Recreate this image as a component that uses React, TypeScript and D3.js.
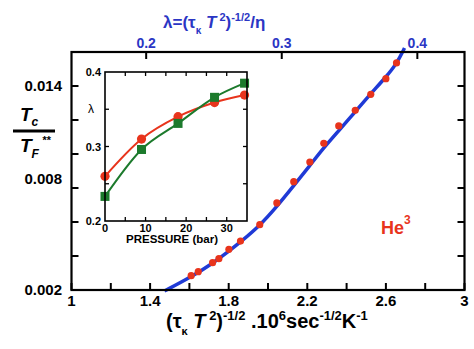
import React from "react";
import * as d3 from "d3";

// Main panel data: Tc/TF** vs (tau_k T^2)^-1/2
const dataX = [1.609, 1.645, 1.718, 1.75, 1.801, 1.86, 1.958, 2.045, 2.131, 2.213, 2.284, 2.36, 2.444, 2.523, 2.6, 2.654];
const dataY = [0.00284, 0.00308, 0.00361, 0.00384, 0.00439, 0.00488, 0.00584, 0.00712, 0.00837, 0.00953, 0.01063, 0.01165, 0.01257, 0.01351, 0.01443, 0.01536];

// Fitted blue curve
const fitX = [1.4733, 1.6092, 1.7176, 1.799, 1.8601, 1.9567, 2.0433, 2.1298, 2.2112, 2.2824, 2.3588, 2.4453, 2.5216, 2.598, 2.6539, 2.6947];
const fitY = [0.001941, 0.002765, 0.003559, 0.004265, 0.004824, 0.005765, 0.006882, 0.008118, 0.009294, 0.010353, 0.011353, 0.0125, 0.013529, 0.0145, 0.015294, 0.016235];

// Inset: lambda vs pressure
const pressure = [0, 9, 18, 27, 34.4];
const lambdaRed = [0.26, 0.31, 0.34, 0.359, 0.369];
const lambdaGreen = [0.233, 0.296, 0.331, 0.366, 0.385];

const xTicks = [1, 1.2, 1.4, 1.6, 1.8, 2, 2.2, 2.4, 2.6, 2.8, 3];
const xLabels = [1, 1.4, 1.8, 2.2, 2.6, 3];
const yTicks = [0.002, 0.004, 0.006, 0.008, 0.01, 0.012, 0.014, 0.016];
const yLabels = ["0.002", "0.008", "0.014"];
const topTicks = [0.2, 0.3, 0.4];
const eta = 6.9;

const insetXTicks = [0, 5, 10, 15, 20, 25, 30, 35];
const insetXLabels = [0, 10, 20, 30];
const insetYTicks = [0.2, 0.25, 0.3, 0.35, 0.4];
const insetYLabels = [0.2, 0.3, 0.4];

const FONT = "'Liberation Sans', Arial, Helvetica, sans-serif";
const RED = "#e8341c";
const BLUE = "#1f3ad6";
const BLUE_TXT = "#2b36c4";
const GREEN = "#1c7a2c";

export default function App() {
  const L = 71.5, R = 464.5, T = 52, B = 290;
  const x = d3.scaleLinear().domain([1, 3]).range([L, R]);
  const y = d3.scaleLinear().domain([0.002, 0.016]).range([B, T]);
  const xTop = d3.scaleLinear().domain([1 / eta, 3 / eta]).range([L, R]);

  const iL = 105, iR = 247, iT = 72, iB = 221;
  const ix = d3.scaleLinear().domain([0, 35]).range([iL, iR]);
  const iy = d3.scaleLinear().domain([0.2, 0.4]).range([iB, iT]);

  const fitLine = d3
    .line<number>()
    .x((_, i) => x(fitX[i]))
    .y((_, i) => y(fitY[i]))
    .curve(d3.curveBasis)(fitX);

  const insetLine = (vals: number[]) =>
    d3
      .line<number>()
      .x((_, i) => ix(pressure[i]))
      .y((_, i) => iy(vals[i]))
      .curve(d3.curveMonotoneX)(vals);

  const yLabelDy: Record<string, number> = { "0.002": 0, "0.008": -9, "0.014": 0 };

  return (
    <svg
      width={474}
      height={349}
      style={{ position: "absolute", left: 0, top: 0, background: "#fff" }}
      fontFamily={FONT}
      fontWeight="bold"
    >
      <rect x={0} y={0} width={474} height={349} fill="#fff" />

      {/* blue fit curve */}
      <path d={fitLine || ""} fill="none" stroke={BLUE} strokeWidth={3.5} />

      {/* data points */}
      {dataX.map((v, i) => (
        <circle key={i} cx={x(v)} cy={y(dataY[i])} r={3.6} fill={RED} />
      ))}

      {/* main frame */}
      <rect x={L} y={T} width={R - L} height={B - T} fill="none" stroke="#000" strokeWidth={2.2} />

      {/* bottom ticks */}
      {xTicks.map((t) => (
        <line key={"bt" + t} x1={x(t)} x2={x(t)} y1={B} y2={B - 7} stroke="#000" strokeWidth={2} />
      ))}
      {xLabels.map((t) => (
        <text key={"bl" + t} x={x(t)} y={306} textAnchor="middle" fontSize={15}>
          {t}
        </text>
      ))}

      {/* left/right ticks */}
      {yTicks.slice(1, -1).map((t) => (
        <g key={"yt" + t}>
          <line x1={L} x2={L + 7} y1={y(t)} y2={y(t)} stroke="#000" strokeWidth={2} />
          <line x1={R} x2={R - 7} y1={y(t)} y2={y(t)} stroke="#000" strokeWidth={2} />
        </g>
      ))}
      {yLabels.map((t) => (
        <text key={"yl" + t} x={62} y={y(+t) + 5 + yLabelDy[t]} textAnchor="end" fontSize={15}>
          {t}
        </text>
      ))}

      {/* top ticks */}
      {topTicks.map((t) => (
        <g key={"tt" + t}>
          <line x1={xTop(t)} x2={xTop(t)} y1={T} y2={T + 7} stroke="#000" strokeWidth={2} />
          <text x={xTop(t)} y={48} textAnchor="middle" fontSize={14} fill={BLUE_TXT}>
            {t}
          </text>
        </g>
      ))}

      {/* top title */}
      <text x={163} y={28} fontSize={17} fill={BLUE_TXT}>
        <tspan>λ=(τ</tspan>
        <tspan fontSize={10} dy={6}>κ</tspan>
        <tspan fontStyle="italic" dy={-6}> T</tspan>
        <tspan fontSize={11} dy={-7}> 2</tspan>
        <tspan dy={7}>)</tspan>
        <tspan fontSize={11} dy={-7}>-1/2</tspan>
        <tspan dy={7}>/η</tspan>
      </text>

      {/* bottom title */}
      <text x={166} y={328} fontSize={20}>
        <tspan>(τ</tspan>
        <tspan fontSize={11} dy={7}>κ</tspan>
        <tspan fontStyle="italic" dy={-7}> T</tspan>
        <tspan fontSize={13} dy={-8}> 2</tspan>
        <tspan dy={8}>)</tspan>
        <tspan fontSize={13} dy={-8}>-1/2</tspan>
        <tspan dy={8}> .10</tspan>
        <tspan fontSize={13} dy={-8}>6</tspan>
        <tspan dy={8}>sec</tspan>
        <tspan fontSize={13} dy={-8}>-1/2</tspan>
        <tspan dy={8}>K</tspan>
        <tspan fontSize={13} dy={-8}>-1</tspan>
      </text>

      {/* left title: Tc / TF** */}
      <text x={20} y={121} fontSize={19} fontStyle="italic">
        T<tspan fontSize={12} dy={5}>c</tspan>
      </text>
      <line x1={13} x2={55} y1={131} y2={131} stroke="#000" strokeWidth={3} />
      <text x={20} y={152} fontSize={19} fontStyle="italic">
        T<tspan fontSize={12} dy={6}>F</tspan>
        <tspan fontSize={11} dy={-14}> **</tspan>
      </text>

      {/* He3 */}
      <text x={381} y={234} fontSize={18} fill={RED}>
        He<tspan fontSize={12} dy={-10}>3</tspan>
      </text>

      {/* ===== inset ===== */}
      <path d={insetLine(lambdaRed) || ""} fill="none" stroke={RED} strokeWidth={2} />
      <path d={insetLine(lambdaGreen) || ""} fill="none" stroke={GREEN} strokeWidth={2} />
      {pressure.map((p, i) => (
        <circle key={"ir" + i} cx={ix(p)} cy={iy(lambdaRed[i])} r={4.6} fill={RED} />
      ))}
      {pressure.map((p, i) => (
        <rect key={"ig" + i} x={ix(p) - 4.5} y={iy(lambdaGreen[i]) - 4.5} width={9} height={9} fill={GREEN} />
      ))}
      <rect x={iL} y={iT} width={iR - iL} height={iB - iT} fill="none" stroke="#000" strokeWidth={1.6} />
      {insetXTicks.slice(1, -1).map((t) => (
        <g key={"ixt" + t}>
          <line x1={ix(t)} x2={ix(t)} y1={iB} y2={iB - 4} stroke="#000" strokeWidth={1.3} />
          <line x1={ix(t)} x2={ix(t)} y1={iT} y2={iT + 4} stroke="#000" strokeWidth={1.3} />
        </g>
      ))}
      {insetYTicks.slice(1, -1).map((t) => (
        <g key={"iyt" + t}>
          <line x1={iL} x2={iL + 4} y1={iy(t)} y2={iy(t)} stroke="#000" strokeWidth={1.3} />
          <line x1={iR} x2={iR - 4} y1={iy(t)} y2={iy(t)} stroke="#000" strokeWidth={1.3} />
        </g>
      ))}
      {insetXLabels.map((t) => (
        <text key={"ixl" + t} x={ix(t)} y={232} textAnchor="middle" fontSize={11}>
          {t}
        </text>
      ))}
      {insetYLabels.map((t) => (
        <text key={"iyl" + t} x={101} y={iy(t) + 4} textAnchor="end" fontSize={11}>
          {t}
        </text>
      ))}
      <text x={91} y={iy(0.35) + 4} textAnchor="middle" fontSize={12} fontWeight="normal">
        λ
      </text>
      <text x={172} y={243} textAnchor="middle" fontSize={11.5}>
        PRESSURE (bar)
      </text>
    </svg>
  );
}
